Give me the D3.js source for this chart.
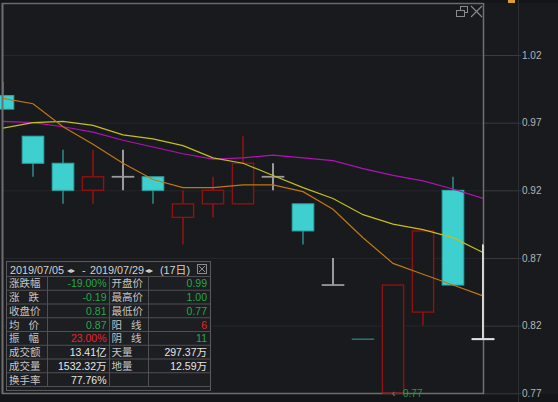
<!DOCTYPE html>
<html><head><meta charset="utf-8">
<script src="https://cdn.jsdelivr.net/npm/d3@7"></script>
<style>html,body{margin:0;padding:0;background:#191a1d;overflow:hidden}svg{display:block}</style>
</head><body><svg id="c" width="558" height="402"></svg>
<script>
// ---------- data ----------
const dates = ["2019/07/05","2019/07/08","2019/07/09","2019/07/10","2019/07/11","2019/07/12","2019/07/15","2019/07/16","2019/07/17","2019/07/18","2019/07/19","2019/07/22","2019/07/23","2019/07/24","2019/07/25","2019/07/26","2019/07/29"];
const openP  = [0.99,0.96,0.94,0.92,0.93,0.93,0.90,0.91,0.91,0.93,0.91,0.85,0.81,0.77,0.83,0.92,0.81];
const highP  = [1.00,0.96,0.95,0.95,0.95,0.93,0.92,0.93,0.96,0.94,0.91,0.87,0.81,0.85,0.89,0.93,0.88];
const lowP   = [0.98,0.93,0.91,0.91,0.92,0.91,0.88,0.90,0.91,0.92,0.88,0.85,0.81,0.77,0.82,0.85,0.81];
const closeP = [0.98,0.94,0.92,0.93,0.93,0.92,0.91,0.92,0.94,0.93,0.89,0.85,0.81,0.85,0.89,0.85,0.81];
const ma5  = [0.988,0.984,0.967,0.954,0.940,0.928,0.922,0.922,0.924,0.924,0.919,0.906,0.885,0.866,0.858,0.850,0.842];
const ma10 = [0.966,0.970,0.971,0.968,0.961,0.958,0.953,0.944,0.940,0.931,0.922,0.914,0.902,0.895,0.891,0.885,0.874];
const ma20 = [0.971,0.970,0.967,0.963,0.957,0.952,0.947,0.943,0.944,0.946,0.944,0.942,0.936,0.931,0.927,0.921,0.914];
const yTicks = [0.77,0.82,0.87,0.92,0.97,1.02];
const lowMarkLabel = "0.77";
const rangeStart = "2019/07/05", rangeEnd = "2019/07/29", dayCount = "(17日)";
const statLabelsL = ["涨跌幅","涨 跌","收盘价","均 价","振 幅","成交额","成交量","换手率"];
const statValuesL = ["-19.00%","-0.19","0.81","0.87","23.00%","13.41亿","1532.32万","77.76%"];
const statLabelsR = ["开盘价","最高价","最低价","阳 线","阴 线","天量","地量",""];
const statValuesR = ["0.99","1.00","0.77","6","11","297.37万","12.59万",""];
const statToneL = ["down","down","down","down","up","plain","plain","plain"];
const statToneR = ["down","down","down","up","down","plain","plain","plain"];

// ---------- layout ----------
const svg = d3.select("#c");
const BG = "#191a1d";
const plot = {l:3, r:483, t:4, b:393.3};
const x = d3.scalePoint().domain(dates).range([3,483]);
const y = d3.scaleLinear().domain([0.77,1.02]).range([393.3,55]);
const half = 11.3;
const RED = "#8e1212", CYAN = "#3ecfcf", TEAL = "#2a8686", GRAY = "#9a9a9a";
const toneColor = {down:"#23a848", up:"#e3262e", plain:"#e6e6e6"};
const font = "'Liberation Sans','Noto Sans CJK SC',sans-serif";

svg.append("rect").attr("width",558).attr("height",402).attr("fill",BG);
svg.append("rect").attr("x",0).attr("y",394).attr("width",558).attr("height",8).attr("fill","#141518");
svg.append("rect").attr("x",0).attr("y",0).attr("width",558).attr("height",3).attr("fill","#141518");

// gridlines in plot
svg.append("g").attr("transform",`translate(${plot.r},0)`)
  .call(d3.axisLeft(y).tickValues(yTicks.filter(v=>v>0.78)).tickSize(plot.r-plot.l).tickFormat(""))
  .call(g=>{g.select(".domain").remove(); g.selectAll("line").attr("stroke","#26272b");});
// gridlines in axis panel
svg.append("g").attr("transform",`translate(521,0)`)
  .call(d3.axisLeft(y).tickValues(yTicks).tickSize(521-plot.r).tickFormat(""))
  .call(g=>{g.select(".domain").remove(); g.selectAll("line").attr("stroke","#3a3b3f");});
// axis labels
svg.append("g").attr("transform",`translate(521,0)`)
  .call(d3.axisRight(y).tickValues(yTicks).tickSize(0).tickPadding(1).tickFormat(d3.format(".2f")))
  .call(g=>{g.select(".domain").remove();
    g.selectAll("text").attr("fill","#b4b4b4").attr("font-size","10px").attr("font-family",font);});
svg.append("line").attr("x1",518.5).attr("x2",518.5).attr("y1",0).attr("y2",402).attr("stroke","#2e2f33");

// ---------- candles ----------
const cg = svg.append("g");
dates.forEach((d,i)=>{
  const cx = x(d), o=openP[i], c=closeP[i], h=highP[i], l=lowP[i];
  const last = i===dates.length-1;
  if (c>o) {
    cg.append("line").attr("x1",cx).attr("x2",cx).attr("y1",y(h)).attr("y2",y(c)).attr("stroke",RED).attr("stroke-width",1.6);
    cg.append("line").attr("x1",cx).attr("x2",cx).attr("y1",y(o)).attr("y2",y(l)).attr("stroke",RED).attr("stroke-width",1.6);
    cg.append("rect").attr("x",cx-half+0.7).attr("y",y(c)).attr("width",2*half-1.4).attr("height",y(o)-y(c))
      .attr("fill",BG).attr("stroke",RED).attr("stroke-width",1.4);
  } else if (c<o) {
    cg.append("line").attr("x1",cx).attr("x2",cx).attr("y1",y(h)).attr("y2",y(l)).attr("stroke",TEAL).attr("stroke-width",1.6);
    cg.append("rect").attr("x",cx-half+0.5).attr("y",y(o)).attr("width",2*half-1).attr("height",y(c)-y(o))
      .attr("fill",CYAN).attr("stroke","#2fa9a9").attr("stroke-width",1);
  } else {
    const col = last ? "#e8e8e8" : (h===l ? TEAL : GRAY);
    if (h>l) cg.append("line").attr("x1",cx).attr("x2",cx).attr("y1",y(h)).attr("y2",y(l)).attr("stroke",col).attr("stroke-width",last?1.6:2);
    cg.append("line").attr("x1",cx-half).attr("x2",cx+half).attr("y1",y(c)).attr("y2",y(c)).attr("stroke",col).attr("stroke-width",h===l?1.3:1.8);
  }
});

// ---------- moving averages ----------
const line = d3.line().x((v,i)=>x(dates[i])).y(v=>y(v));
[[ma20,"#b012b4"],[ma10,"#c2bf1e"],[ma5,"#c07812"]].forEach(([arr,col])=>{
  svg.append("path").attr("d",line(arr)).attr("fill","none").attr("stroke",col).attr("stroke-width",1.2);
});

// ---------- frame ----------
svg.append("line").attr("x1",2.5).attr("x2",2.5).attr("y1",3).attr("y2",394).attr("stroke","#6e6e6e").attr("stroke-width",2);
svg.append("line").attr("x1",2).attr("x2",484).attr("y1",3.5).attr("y2",3.5).attr("stroke","#6a6a6a").attr("stroke-width",1.5);
svg.append("line").attr("x1",483.5).attr("x2",483.5).attr("y1",3).attr("y2",394).attr("stroke","#707070").attr("stroke-width",1.5);
svg.append("line").attr("x1",2).attr("x2",484).attr("y1",393.5).attr("y2",393.5).attr("stroke","#6e6e6e").attr("stroke-width",1.5);
// redraw last candle above frame
{
  const i = dates.length-1, cx = x(dates[i]);
  svg.append("line").attr("x1",cx).attr("x2",cx).attr("y1",y(highP[i])).attr("y2",y(lowP[i])).attr("stroke","#e8e8e8").attr("stroke-width",1.6);
  svg.append("line").attr("x1",cx-half).attr("x2",cx+half).attr("y1",y(closeP[i])).attr("y2",y(closeP[i])).attr("stroke","#e0e0e0").attr("stroke-width",1.8);
  const j = 13, cj = x(dates[j]);
  svg.append("line").attr("x1",cj-half+0.7).attr("x2",cj+half-0.7).attr("y1",y(lowP[j])).attr("y2",y(lowP[j])).attr("stroke","#a01818").attr("stroke-width",1.4);
}
// low marker
{
  const cx = x(dates[13]);
  svg.append("text").attr("x",cx-1).attr("y",y(0.77)+3.5).attr("fill","#8a8a8a").attr("font-size","10px").attr("font-family",font).text("‹");
  svg.append("text").attr("x",cx+10).attr("y",y(0.77)+4).attr("fill","#1f9a42").attr("font-size","10px").attr("font-family",font).text(lowMarkLabel);
}
// window icons
svg.append("rect").attr("x",460.5).attr("y",6.5).attr("width",7).attr("height",6).attr("fill","none").attr("stroke","#8a8a8a");
svg.append("rect").attr("x",456.5).attr("y",10.5).attr("width",8).attr("height",6).attr("fill",BG).attr("stroke","#8a8a8a");
svg.append("path").attr("d","M471,6 L482,17 M482,6 L471,17").attr("stroke","#8a8a8a").attr("stroke-width",1.1);
svg.append("rect").attr("x",508).attr("y",0).attr("width",7).attr("height",3).attr("fill","#d9a030");

// ---------- info panel ----------
const P = {l:6.5, r:210.5, t:261.5, hb:276.5, rh:13.75};
const pg = svg.append("g").attr("font-family",font);
pg.append("rect").attr("x",P.l).attr("y",P.t).attr("width",P.r-P.l).attr("height",390.5-P.t).attr("fill","#1d1e21").attr("stroke","#5a5a5e");
const colX = [47.5,109.5,148.5];
statLabelsL.forEach((lab,i)=>{
  const top = P.hb + i*P.rh;
  pg.append("line").attr("x1",P.l).attr("x2",P.r).attr("y1",top).attr("y2",top).attr("stroke","#505054");
});
pg.append("line").attr("x1",P.l).attr("x2",P.r).attr("y1",P.hb+8*P.rh).attr("y2",P.hb+8*P.rh).attr("stroke","#505054");
colX.forEach(cx=>pg.append("line").attr("x1",cx).attr("x2",cx).attr("y1",P.hb).attr("y2",P.hb+8*P.rh).attr("stroke","#505054"));

function label(txt, x0, yb){
  const t = pg.append("text").attr("x",x0).attr("y",yb).attr("fill","#c4c4c4").attr("font-size","10.5px").text(txt);
  if (txt.includes(" ")) t.attr("textLength",30).attr("lengthAdjust","spacing");
}
statLabelsL.forEach((lab,i)=>{
  const yb = P.hb + i*P.rh + 10.8;
  label(lab, 9, yb);
  pg.append("text").attr("x",106.5).attr("y",yb).attr("text-anchor","end").attr("font-size","10.5px").attr("fill",toneColor[statToneL[i]]).text(statValuesL[i]);
  if (statLabelsR[i]) label(statLabelsR[i], 111.5, yb);
  if (statValuesR[i]) pg.append("text").attr("x",207).attr("y",yb).attr("text-anchor","end").attr("font-size","10.5px").attr("fill",toneColor[statToneR[i]]).text(statValuesR[i]);
});
// header
const hy = 273.5;
pg.append("text").attr("x",10).attr("y",hy).attr("fill","#d2d2d2").attr("font-size","10.8px").text(rangeStart);
pg.append("text").attr("x",67).attr("y",hy-0.5).attr("fill","#d2d2d2").attr("font-size","8px").attr("font-family","'DejaVu Sans'").text("◂▸");
pg.append("text").attr("x",82).attr("y",hy).attr("fill","#d2d2d2").attr("font-size","10.8px").text("-");
pg.append("text").attr("x",90).attr("y",hy).attr("fill","#d2d2d2").attr("font-size","10.8px").text(rangeEnd);
pg.append("text").attr("x",145).attr("y",hy-0.5).attr("fill","#d2d2d2").attr("font-size","8px").attr("font-family","'DejaVu Sans'").text("◂▸");
pg.append("text").attr("x",160).attr("y",hy).attr("fill","#d2d2d2").attr("font-size","10.8px").text(dayCount);
pg.append("rect").attr("x",197.5).attr("y",264.5).attr("width",9).attr("height",9).attr("fill","none").attr("stroke","#8c8c8c");
pg.append("path").attr("d","M199,266 L205,272 M205,266 L199,272").attr("stroke","#8c8c8c");
</script></body></html>
